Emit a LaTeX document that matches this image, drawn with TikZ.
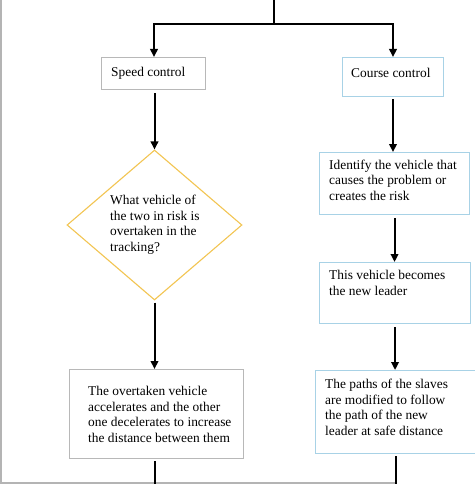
\documentclass[tikz,border=0pt]{standalone}
\usepackage{fontspec}
\setmainfont{Liberation Serif}
\usetikzlibrary{arrows.meta,shapes.geometric}
\definecolor{boxgray}{HTML}{B8B8B8}
\definecolor{boxblue}{HTML}{A8D2E6}
\definecolor{dgold}{HTML}{F2C451}
\definecolor{framegray}{HTML}{B4B4B4}
\tikzset{
  graybox/.style={draw=boxgray, line width=1.1pt, rectangle, inner sep=0pt, anchor=north west},
  bluebox/.style={draw=boxblue, line width=1.1pt, rectangle, inner sep=0pt, anchor=north west},
  txt/.style={inner sep=0pt, align=left, font=\fontsize{13.4}{15.5}\selectfont},
  flow/.style={line width=2pt, draw=black},
  flowarrow/.style={flow, -{Triangle[length=8pt,width=7.5pt]}},
}
\begin{document}
\begin{tikzpicture}[x=1pt,y=-1pt]
\useasboundingbox (0,0) rectangle (474,484);
% frame
\draw[framegray, line width=2.5pt] (1.2,0) -- (1.2,484);
\draw[framegray, line width=2.5pt] (0,482.8) -- (395,482.8);
% coordinates
\coordinate (top) at (274,0);
\coordinate (jc) at (274,24);
\coordinate (jl) at (154,24);
\coordinate (jr) at (393,24);
\coordinate (botl) at (154.5,484);
\coordinate (botr) at (396,484);
% boxes
\node[graybox, minimum width=104pt, minimum height=32pt] (speed) at (101,57) {};
\node[txt, anchor=west] (speedt) at (111,73) {Speed control};
\node[bluebox, minimum width=101pt, minimum height=39pt] (course) at (342,57) {};
\node[txt, anchor=west] (courset) at (351,72.5) {Course control};
\node[draw=dgold, line width=1.1pt, diamond, inner sep=0pt, minimum width=175pt, minimum height=150pt] (dec) at (154.5,225) {};
\node[txt, anchor=north west] (dect) at (110,195) {What vehicle of\\the two in risk is\\overtaken in the\\tracking?};
\node[graybox, minimum width=174pt, minimum height=89pt] (over) at (69,369) {};
\node[txt, anchor=north west] (overt) at (88,386) {The overtaken vehicle\\accelerates and the other\\one decelerates to increase\\the distance between them};
\node[bluebox, minimum width=150pt, minimum height=62pt] (ident) at (319,152) {};
\node[txt, anchor=north west] (identt) at (329,159.5) {Identify the vehicle that\\causes the problem or\\creates the risk};
\node[bluebox, minimum width=151pt, minimum height=61pt] (leader) at (319,262) {};
\node[txt, anchor=north west] (leadert) at (329,270) {This vehicle becomes\\the new leader};
\node[bluebox, minimum width=162pt, minimum height=83pt] (paths) at (315,370) {};
\node[txt, anchor=north west] (pathst) at (325,379) {The paths of the slaves\\are modified to follow\\the path of the new\\leader at safe distance};
% connectors
\draw[flow] (top) -- (jc);
\draw[flow] ([xshift=-1pt]jl) -- ([xshift=1pt]jr);
\draw[flowarrow] (jl) -- (jl |- speed.north);
\draw[flowarrow] (jr) -- (jr |- course.north);
\draw[flowarrow, shorten <=3pt] (dec.north |- speed.south) -- (dec.north);
\draw[flowarrow, shorten <=2pt] (course.south -| jr) -- (jr |- ident.north);
\draw[flowarrow, shorten <=2pt] (dec.south) -- (over.north -| dec.south);
\draw[flowarrow, shorten <=3pt] (ident.south) -- (ident.south |- leader.north);
\draw[flowarrow, shorten <=3pt] (leader.south) -- (leader.south |- paths.north);
\draw[flow, shorten <=2pt] (over.south -| botl) -- (botl);
\draw[flow, shorten <=2pt] (paths.south -| botr) -- (botr);
\end{tikzpicture}
\end{document}
